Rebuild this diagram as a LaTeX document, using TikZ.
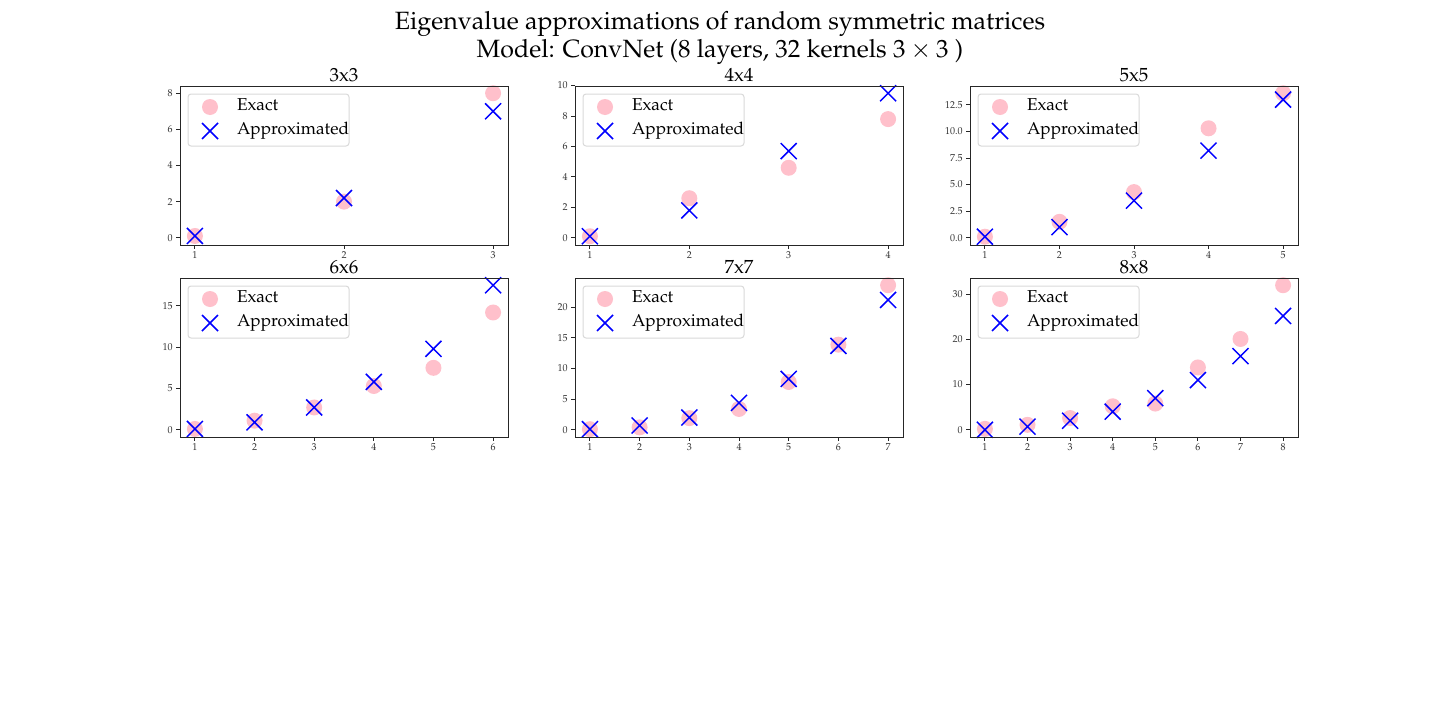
\documentclass[tikz,border=0pt]{standalone}
\usepackage[T1]{fontenc}
\usepackage{mathpazo}
\begin{document}
\begin{tikzpicture}[x=0.5pt,y=0.5pt,
  ex/.style={fill={rgb,255:red,255;green,192;blue,203},draw=none},
  ax/.style={line width=0.5pt,draw=black!85},
  cr/.style={draw=blue,line width=0.75pt},
  lg/.style={draw=black!15,line width=0.5pt,rounded corners=1.5pt,fill=white,fill opacity=0.8},
  tk/.style={font=\fontsize{5}{5}\selectfont,text=black!80,inner sep=0pt}]
\useasboundingbox (0,0) rectangle (1440,720);
\node[inner sep=1pt] (t1) at (720,696) {\fontsize{12.5}{14}\selectfont Eigenvalue approximations of random symmetric matrices};
\node[inner sep=1pt] (t2) at (720,668) {\fontsize{12.5}{14}\selectfont Model: ConvNet (8 layers, 32 kernels $3\times 3$ )};
\newcommand{\mypanel}[9]{%
 \begin{scope}
 \pgfmathsetmacro{\xs}{328/((#3-1)*1.1)}
 \pgfmathsetmacro{\ys}{159/((#5-#4)*1.1)}
 \pgfmathsetmacro{\xo}{#1+0.05*(#3-1)*\xs}
 \pgfmathsetmacro{\yo}{#2+0.05*(#5-#4)*\ys}
 \foreach \v [count=\i] in {#8} {
   \pgfmathsetmacro{\px}{\xo+(\i-1)*\xs}\pgfmathsetmacro{\py}{\yo+(\v-#4)*\ys}
   \fill[ex] (\px,\py) circle[radius=4pt];}
 \foreach \v [count=\i] in {#9} {
   \pgfmathsetmacro{\px}{\xo+(\i-1)*\xs}\pgfmathsetmacro{\py}{\yo+(\v-#4)*\ys}
   \draw[cr] (\px-8,\py-8) -- (\px+8,\py+8) (\px-8,\py+8) -- (\px+8,\py-8);}
 \draw[ax] (#1,#2) rectangle (#1+328,#2+159);
 \foreach \i in {1,...,#3} {
   \pgfmathsetmacro{\px}{\xo+(\i-1)*\xs}
   \draw[ax] (\px,#2) -- (\px,#2-4);
   \node[tk,anchor=north] at (\px,#2-6) {\i};}
 \foreach \v/\l in {#7} {
   \pgfmathsetmacro{\py}{\yo+(\v-#4)*\ys}
   \draw[ax] (#1,\py) -- (#1-4,\py);
   \node[tk,anchor=east] at (#1-7,\py) {\l};}
 \node at (#1+164,#2+170) {\fontsize{9.5}{10}\selectfont #6};
 \draw[lg] (#1+8,#2+151) rectangle (#1+169,#2+99);
 \fill[ex] (#1+30,#2+138) circle[radius=4pt];
 \draw[cr] (#1+22,#2+106) -- (#1+38,#2+122) (#1+22,#2+122) -- (#1+38,#2+106);
 \node[anchor=west] at (#1+50,#2+140) {\fontsize{8.6}{10}\selectfont Exact};
 \node[anchor=west] at (#1+50,#2+114) {\fontsize{8.6}{10}\selectfont Approximated};
 \end{scope}}
\mypanel{180}{475}{3}{0}{8}{3x3}{0/0,2/2,4/4,6/6,8/8}{0.1,2.0,8.0}{0.1,2.2,7.0}
\mypanel{575}{475}{4}{0}{9.5}{4x4}{0/0,2/2,4/4,6/6,8/8,10/10}{0.1,2.6,4.6,7.8}{0.1,1.8,5.7,9.5}
\mypanel{970}{475}{5}{0}{13.6}{5x5}{0/0.0,2.5/2.5,5/5.0,7.5/7.5,10/10.0,12.5/12.5}{0.1,1.5,4.3,10.3,13.6}{0.1,1.0,3.5,8.2,13.0}
\mypanel{180}{283}{6}{0}{17.5}{6x6}{0/0,5/5,10/10,15/15}{0.1,1.1,2.7,5.3,7.5,14.2}{0.1,0.9,2.7,5.8,9.8,17.5}
\mypanel{575}{283}{7}{0}{23.6}{7x7}{0/0,5/5,10/10,15/15,20/20}{0.1,0.4,1.9,3.4,7.8,13.9,23.6}{0.1,0.7,2.0,4.4,8.3,13.7,21.2}
\mypanel{970}{283}{8}{0}{32}{8x8}{0/0,10/10,20/20,30/30}{0.2,1.1,2.6,5.2,5.8,13.8,20.1,32.0}{0,0.7,2.0,4.0,7.0,11.0,16.3,25.2}
\end{tikzpicture}
\end{document}
